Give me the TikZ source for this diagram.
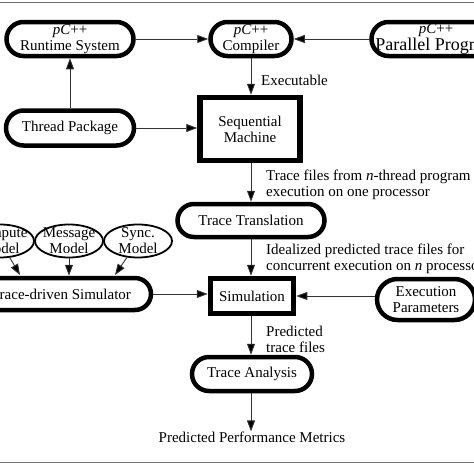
\documentclass[tikz,border=0pt]{standalone}
\usepackage{fontspec}
\setmainfont{Liberation Serif}
\usetikzlibrary{arrows.meta,shapes.geometric}
\begin{document}
\begin{tikzpicture}[x=1pt,y=-1pt,
  every node/.style={font=\fontsize{15}{16}\selectfont, inner sep=0pt, align=center},
  pill/.style={draw, line width=4.5pt, rounded corners=17pt, minimum height=34pt},
  box/.style={draw, line width=5.5pt},
  oval/.style={draw, ellipse, line width=1.8pt, minimum width=68pt, minimum height=33pt},
  arr/.style={line width=0.9pt, draw=black!80, -{Triangle[length=11pt,width=8pt,fill=black]}},
  lbl/.style={anchor=west, align=left},
  rule/.style={draw=black!55, line width=1.5pt}]
\useasboundingbox (0,0) rectangle (474,474);
\clip (0,0) rectangle (474,474);
\draw[rule] (0,2.7) -- (474,2.7);
\draw[rule] (0,462.7) -- (474,462.7);

% top row
\node[pill, minimum width=127pt] (runtime) at (70,39) {{\itshape pC}++\\Runtime System};
\node[pill, minimum width=81pt] (compiler) at (251,39) {{\itshape pC}++\\Compiler};
\node[pill, minimum width=129pt, font=\fontsize{15}{13}\selectfont] (parallel) at (436,39) {{\itshape pC}++\\{\fontsize{18}{13}\selectfont Parallel Program}};

% second row
\node[pill, minimum width=128pt, minimum height=35pt, rounded corners=17.5pt] (thread) at (70,128) {Thread Package};
\node[box, minimum width=100pt, minimum height=63pt] (seq) at (250,129) {Sequential\\Machine};

% middle
\node[pill, minimum width=147pt, minimum height=33pt, rounded corners=16.5pt] (tt) at (251,220.5) {Trace Translation};

% models
\node[oval, label={[align=center]center:Compute\\Model}] (compute) at (0,241) {};
\node[oval, label={[align=center]center:Message\\Model}] (message) at (69,241) {};
\node[oval, label={[align=center]center:Sync.\\Model}] (sync) at (138,241) {};

% simulation row
\node[pill, minimum width=180pt, minimum height=32pt, rounded corners=16pt] (simulator) at (61,294) {Trace-driven Simulator};
\node[box, minimum width=83pt, minimum height=35pt] (sim) at (252,296) {Simulation};
\node[pill, minimum width=98pt, minimum height=41pt, rounded corners=20.5pt] (exec) at (426,299.5) {Execution\\Parameters};

% bottom
\node[pill, minimum width=120pt, minimum height=34pt] (ta) at (252,374) {Trace Analysis};
\node (metrics) at (252,437) {Predicted Performance Metrics};

% labels
\node[lbl] (lexe) at (261,80) {Executable};
\node[lbl] (ltr) at (266,184.5) {Trace files from \textit{n}-thread program\\execution on one processor};
\node[lbl] (lid) at (266,258.5) {Idealized predicted trace files for\\concurrent execution on \textit{n} processors};
\node[lbl] (lpr) at (266,339.5) {Predicted\\trace files};

\coordinate (c1) at (20,275);
\coordinate (c3) at (115,275);

% connectors
\draw[arr] (runtime) -- (compiler);
\draw[arr] (parallel) -- (compiler);
\draw[arr] (thread) -- (runtime);
\draw[arr] (thread.east) -- (thread.east -| seq.west);
\draw[arr] (compiler.south) -- (compiler.south |- seq.north);
\draw[arr] (seq.south -| compiler) -- (tt.north -| compiler);
\draw[arr] (tt.south -| compiler) -- (sim.north -| compiler);
\draw[arr] (simulator.east) -- (simulator.east -| sim.west);
\draw[arr] (exec.west |- sim) -- (sim.east);
\draw[arr] (sim.south -| compiler) -- (ta.north -| compiler);
\draw[arr] (ta.south -| compiler) -- (metrics.north -| compiler);
\draw[arr] (compute) -- (c1);
\draw[arr] (message.south) -- (message.south |- simulator.north);
\draw[arr] (sync) -- (c3);
\end{tikzpicture}
\end{document}
